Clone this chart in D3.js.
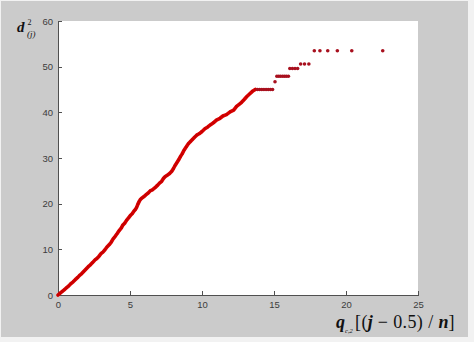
<!DOCTYPE html>
<html>
<head>
<meta charset="utf-8">
<script src="https://cdn.jsdelivr.net/npm/d3@7"></script>
<style>
    body { margin: 0; background: #f2f2f2; }
    .tick text { font-family: "Liberation Sans", Arial, sans-serif; font-size: 9.5px; fill: #3c3c3c; }
    .axis path, .axis line { stroke: #505050; shape-rendering: crispEdges; }
</style>
</head>
<body>
<div id="chart"></div>
<script>
// chi-square quantiles vs ordered squared distances (dense lower part)
var qDense = [0, 0.15, 0.3, 0.45, 0.6, 0.75, 0.9, 1.05, 1.18, 1.35, 1.5, 1.65, 1.8, 1.95, 2.1, 2.25,
    2.4, 2.57, 2.7, 2.85, 3.0, 3.12, 3.26, 3.4, 3.55, 3.7, 3.83, 3.96, 4.1, 4.25, 4.4, 4.5, 4.63, 4.77,
    4.9, 5.02, 5.15, 5.28, 5.37, 5.46, 5.55, 5.64, 5.72, 5.81, 5.95, 6.1, 6.25, 6.4, 6.55, 6.74, 6.9,
    7.05, 7.2, 7.32, 7.43, 7.58, 7.75, 7.9, 8.02, 8.12, 8.24, 8.38, 8.5, 8.62, 8.75, 8.9, 9.05, 9.2,
    9.35, 9.5, 9.63, 9.8, 10.0, 10.2, 10.4, 10.6, 10.79, 11.0, 11.25, 11.45, 11.7, 11.95, 12.2, 12.4,
    12.6, 12.75, 12.9, 13.1, 13.3, 13.5, 13.7];
var dDense = [0, 0.4, 0.8, 1.2, 1.6, 2.0, 2.5, 2.9, 3.3, 3.8, 4.3, 4.7, 5.2, 5.7, 6.2, 6.6,
    7.1, 7.7, 8.0, 8.5, 9.1, 9.4, 9.9, 10.5, 11.0, 11.6, 12.3, 12.8, 13.4, 14.1, 14.7, 15.3, 15.7, 16.4,
    16.9, 17.4, 17.8, 18.4, 18.7, 19.2, 19.9, 20.5, 20.9, 21.2, 21.5, 21.9, 22.3, 22.8, 23.0, 23.5, 24.0,
    24.5, 24.9, 25.5, 25.9, 26.2, 26.6, 27.1, 27.7, 28.3, 28.9, 29.6, 30.3, 30.9, 31.7, 32.4, 33.1, 33.6,
    34.1, 34.6, 35.0, 35.3, 35.8, 36.4, 36.8, 37.3, 37.7, 38.3, 38.7, 39.2, 39.5, 40.1, 40.5, 41.3,
    41.8, 42.2, 42.7, 43.4, 44.0, 44.6, 45.0];

// upper tail, where the points spread out into steps
var qTail = [13.85, 14.0, 14.15, 14.3, 14.45, 14.6, 14.75, 14.9, 15.07,
    15.2, 15.33, 15.46, 15.6, 15.73, 15.86, 16.0, 16.1, 16.28, 16.46, 16.64,
    16.85, 17.12, 17.42, 17.8, 18.19, 18.73, 19.4, 20.4, 22.55];
var dTail = [45, 45, 45, 45, 45, 45, 45, 45, 46.7,
    47.9, 47.9, 47.9, 47.9, 47.9, 47.9, 47.9, 49.6, 49.6, 49.6, 49.6,
    50.6, 50.6, 50.6, 53.5, 53.5, 53.5, 53.5, 53.5, 53.5];

var xTicks = [0, 5, 10, 15, 20, 25];
var yTicks = [0, 10, 20, 30, 40, 50, 60];

QQPlot = function(_parentElement) {
    this.parentElement = _parentElement;
    this.initVis();
}

QQPlot.prototype.initVis = function() {
    var vis = this;

    vis.margin = { top: 21, right: 56, bottom: 47, left: 58 };
    vis.width = 474 - vis.margin.left - vis.margin.right;
    vis.height = 342 - vis.margin.top - vis.margin.bottom;

    vis.root = d3.select("#" + vis.parentElement).append("svg")
        .attr("width", 474)
        .attr("height", 342);

    // grey figure background
    vis.root.append("rect")
        .attr("x", 1).attr("y", 1)
        .attr("width", 467).attr("height", 336)
        .attr("fill", "#cbcbcb");

    vis.svg = vis.root.append("g")
        .attr("transform", "translate(" + vis.margin.left + "," + vis.margin.top + ")");

    vis.svg.append("rect")
        .attr("width", vis.width)
        .attr("height", vis.height)
        .attr("fill", "#ffffff");

    vis.x = d3.scaleLinear().domain([0, 25]).range([0, vis.width]);
    vis.y = d3.scaleLinear().domain([0, 60]).range([vis.height, 0]);

    vis.svg.append("g")
        .attr("class", "axis x-axis")
        .attr("transform", "translate(0," + vis.height + ")")
        .call(d3.axisBottom(vis.x).tickValues(xTicks).tickSize(-4).tickSizeOuter(0).tickPadding(6));

    vis.svg.append("g")
        .attr("class", "axis y-axis")
        .call(d3.axisLeft(vis.y).tickValues(yTicks).tickSize(-4).tickSizeOuter(0).tickPadding(5));

    vis.wrangleData();
}

QQPlot.prototype.wrangleData = function() {
    var vis = this;

    vis.dense = qDense.map(function(q, i) { return { q: q, d: dDense[i] }; });
    vis.tail = qTail.map(function(q, i) { return { q: q, d: dTail[i] }; });

    vis.updateVis();
}

QQPlot.prototype.updateVis = function() {
    var vis = this;

    var line = d3.line()
        .x(function(p) { return vis.x(p.q); })
        .y(function(p) { return vis.y(p.d); });

    // the lower points are packed so tightly they read as a thick trace
    vis.svg.append("path")
        .datum(vis.dense)
        .attr("d", line)
        .attr("fill", "none")
        .attr("stroke", "#dd0000")
        .attr("stroke-width", 3.6)
        .attr("stroke-linejoin", "round")
        .attr("stroke-linecap", "round");

    vis.svg.selectAll(".pt")
        .data(vis.dense.concat(vis.tail))
        .enter().append("circle")
        .attr("class", "pt")
        .attr("cx", function(p) { return vis.x(p.q); })
        .attr("cy", function(p) { return vis.y(p.d); })
        .attr("r", function(p, i) { return i < qDense.length ? 1.3 : 1.8; })
        .attr("fill", function(p, i) { return i < qDense.length ? "#c40000" : "#a8101e"; });

    // axis labels
    var serif = "'Liberation Serif', 'Times New Roman', serif";

    var yLab = vis.root.append("text")
        .attr("font-family", serif)
        .attr("fill", "#111");
    yLab.append("tspan").attr("x", 17).attr("y", 32)
        .attr("font-size", 15).attr("font-weight", "bold").attr("font-style", "italic").text("d");
    yLab.append("tspan").attr("x", 27.5).attr("y", 25)
        .attr("font-size", 8).text("2");
    yLab.append("tspan").attr("x", 27).attr("y", 37)
        .attr("font-size", 9).attr("font-style", "italic").text("(j)");

    var xLab = vis.root.append("text")
        .attr("font-family", serif)
        .attr("font-size", 18)
        .attr("fill", "#111");
    xLab.append("tspan").attr("x", 336).attr("y", 328)
        .attr("font-weight", "bold").attr("font-style", "italic").text("q");
    xLab.append("tspan").attr("x", 345).attr("y", 333)
        .attr("font-size", 6.5).attr("font-style", "italic").text("c,2");
    xLab.append("tspan").attr("x", 355).attr("y", 328)
        .attr("letter-spacing", 0.4).text("[(");
    xLab.append("tspan").attr("font-weight", "bold").attr("font-style", "italic").text("j");
    xLab.append("tspan").attr("letter-spacing", 0.4).text(" \u2212 0.5) / ");
    xLab.append("tspan").attr("font-weight", "bold").attr("font-style", "italic").text("n");
    xLab.append("tspan").text("]");
}

new QQPlot("chart");
</script>
</body>
</html>
